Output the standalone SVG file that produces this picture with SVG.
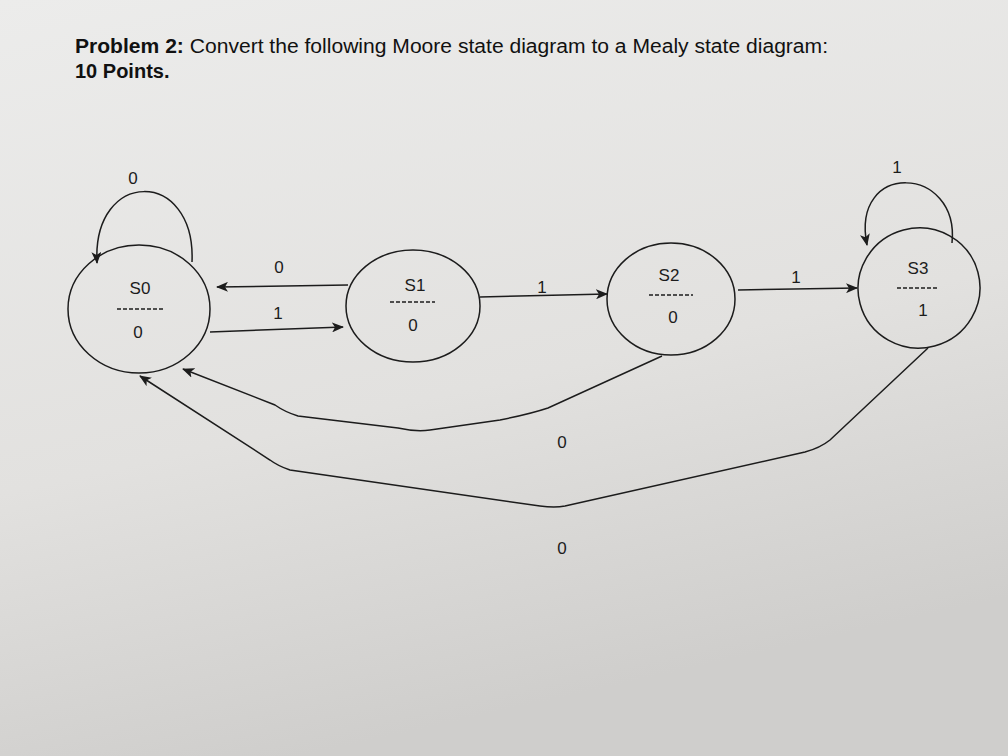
<svg xmlns="http://www.w3.org/2000/svg" width="1008" height="756" viewBox="0 0 1008 756">
<defs>
<linearGradient id="bg" x1="0" y1="0" x2="0.3" y2="1">
<stop offset="0" stop-color="#ececeb"/>
<stop offset="0.6" stop-color="#e2e1df"/>
<stop offset="1" stop-color="#cfcecc"/>
</linearGradient>
<marker id="ah" viewBox="0 0 12 10" refX="11" refY="5" markerWidth="12" markerHeight="10" markerUnits="userSpaceOnUse" orient="auto">
<path d="M0,0 L12,5 L0,10 L3,5 z" fill="#1c1c1c"/>
</marker>
</defs>
<style>
.st{fill:none;stroke:#1c1c1c;stroke-width:1.5}
.ed{fill:none;stroke:#1c1c1c;stroke-width:1.5;marker-end:url(#ah)}
.dash{stroke:#1c1c1c;stroke-width:1.5;stroke-dasharray:4,2}
.t{font-family:"Liberation Sans",Arial,sans-serif;font-size:17px;fill:#1c1c1c;text-anchor:middle}
.h{font-family:"Liberation Sans",Arial,sans-serif;font-size:20px;fill:#111}
</style>
<rect width="1008" height="756" fill="url(#bg)"/>
<g id="title">
<text class="h" x="75" y="53" textLength="753" lengthAdjust="spacingAndGlyphs"><tspan font-weight="bold">Problem 2:</tspan> Convert the following Moore state diagram to a Mealy state diagram:</text>
<text class="h" x="75" y="78" font-weight="bold">10 Points.</text>
</g>
<g id="S0">
<ellipse class="st" cx="139" cy="309" rx="71" ry="64"/>
<text class="t" x="140" y="294">S0</text>
<line class="dash" x1="117" y1="309" x2="163" y2="309"/>
<text class="t" x="138" y="338">0</text>
</g>
<g id="S1">
<ellipse class="st" cx="413" cy="306" rx="67" ry="56"/>
<text class="t" x="415" y="291">S1</text>
<line class="dash" x1="390" y1="302" x2="435" y2="302"/>
<text class="t" x="413" y="331">0</text>
</g>
<g id="S2">
<ellipse class="st" cx="671" cy="299" rx="64" ry="56"/>
<text class="t" x="669" y="281">S2</text>
<line class="dash" x1="649" y1="295" x2="693" y2="295"/>
<text class="t" x="673" y="323">0</text>
</g>
<g id="S3">
<ellipse class="st" cx="919" cy="288" rx="61" ry="60" transform="rotate(-15 919 288)"/>
<text class="t" x="918" y="274">S3</text>
<line class="dash" x1="897" y1="288" x2="938" y2="288"/>
<text class="t" x="923" y="316">1</text>
</g>
<g id="connectors">
<path class="ed" d="M192,262 C196,168 92,168 97,263"/>
<text class="t" x="133" y="184">0</text>
<path class="ed" d="M348,285 L217,287"/>
<text class="t" x="279" y="273">0</text>
<path class="ed" d="M210,332 L343,327"/>
<text class="t" x="278" y="319">1</text>
<path class="ed" d="M480,297 L607,294"/>
<text class="t" x="542" y="293">1</text>
<path class="ed" d="M738,290 L857,288"/>
<text class="t" x="796" y="283">1</text>
<path class="ed" d="M952,243 C960,165 850,160 867,245"/>
<text class="t" x="897" y="173">1</text>
<path class="ed" d="M662,356 L548,408 Q530,414 500,420 L430,430 Q416,432 398,428 L298,416 Q285,412 275,405 L183,369"/>
<text class="t" x="562" y="448">0</text>
<path class="ed" d="M928,348 L830,440 Q820,448 805,452 L565,506 Q555,508 540,506 L290,470 Q278,466 270,460 L140,376"/>
<text class="t" x="562" y="554">0</text>
</g>
</svg>
